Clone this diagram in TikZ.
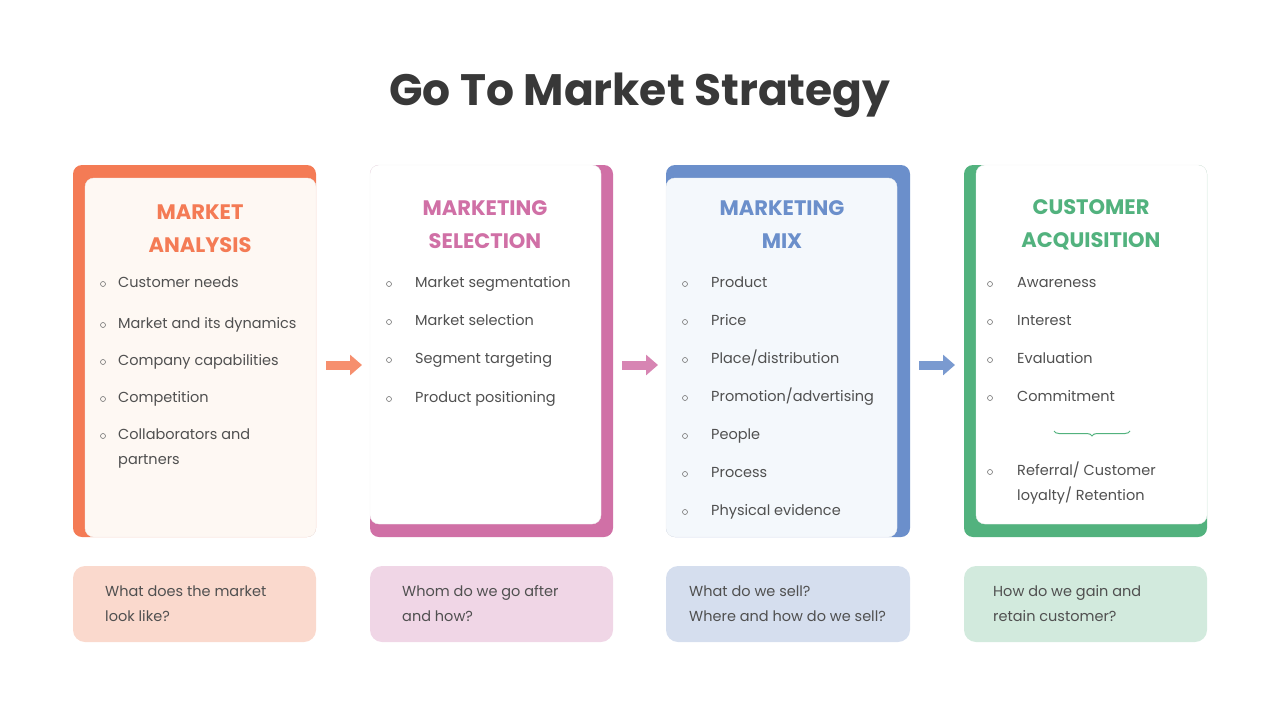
\documentclass[tikz,border=0pt]{standalone}
\usepackage{fontspec}
\setmainfont{Poppins}
\usetikzlibrary{arrows.meta,decorations.pathreplacing}
\definecolor{cOr}{HTML}{F47B55}
\definecolor{cPk}{HTML}{D070A6}
\definecolor{cBl}{HTML}{6B8FCB}
\definecolor{cGr}{HTML}{52B27E}
\definecolor{txt}{HTML}{505050}
\definecolor{in1}{HTML}{FEF8F3}
\definecolor{in3}{HTML}{F4F8FC}
\definecolor{qa}{HTML}{FAD9CD}
\definecolor{qb}{HTML}{F0D6E6}
\definecolor{qc}{HTML}{D5DEEE}
\definecolor{qd}{HTML}{D2EADD}
\tikzset{
 outer/.style={rounded corners=9pt},
 inner/.style={rounded corners=9pt, draw=black!6},
 ttl/.style={font=\fontsize{21}{33}\selectfont\bfseries, align=center, anchor=center},
 itm/.style={font=\fontsize{14.5}{25}\selectfont, text=txt, anchor=base west, align=left, inner sep=0},
 bul/.style={circle, draw=txt!80, line width=0.6pt, minimum size=5pt, inner sep=0},
 qbox/.style={rounded corners=12pt},
 qtxt/.style={font=\fontsize{14.5}{25}\selectfont, text=txt, anchor=west, align=left, inner sep=0},
 arr/.style={-{Triangle[length=12pt,width=20pt]}, line width=9pt},
}
\begin{document}
\begin{tikzpicture}[x=1pt,y=-1pt]
\useasboundingbox (0,0) rectangle (1280,720);
\node[font=\fontsize{44}{52}\selectfont\bfseries, text=black!78] (T) at (640,95) {Go To Market Strategy};
% cards
\fill[cOr,outer] (73,165) rectangle (316,537);
\filldraw[fill=in1,inner] (85,178) rectangle (316,537);
\fill[cPk,outer] (370,165) rectangle (613,537);
\filldraw[fill=white,inner] (370,165) rectangle (601,524);
\fill[cBl,outer] (666,165) rectangle (910,537);
\filldraw[fill=in3,inner] (666,178) rectangle (897,537);
\fill[cGr,outer] (964,165) rectangle (1207,537);
\filldraw[fill=white,inner] (976,165) rectangle (1207,524);
% titles
\node[ttl,text=cOr] (t1) at (200,229) {MARKET\\ANALYSIS};
\node[ttl,text=cPk] (t2) at (485,225) {MARKETING\\SELECTION};
\node[ttl,text=cBl] (t3) at (782,225) {MARKETING\\MIX};
\node[ttl,text=cGr] (t4) at (1091,225) {CUSTOMER\\ACQUISITION};
% card1 items
\foreach \y/\t [count=\i] in {282/Customer needs,323/Market and its dynamics,360/Company capabilities,397/Competition,434/Collaborators and}{
 \node[bul] (ab\i) at (103,\y+2) {}; \node[itm] (a\i) at (118,\y+5) {\t};}
\node[itm] (a6) at (118,464) {partners};
\foreach \y/\t [count=\i] in {282/Market segmentation,320/Market selection,358/Segment targeting,397/Product positioning}{
 \node[bul] (bb\i) at (389,\y+2) {}; \node[itm] (b\i) at (415,\y+5) {\t};}
\foreach \y/\t [count=\i] in {282/Product,320/Price,358/Place\slash distribution,396/Promotion\slash advertising,434/People,472/Process,510/Physical evidence}{
 \node[bul] (cb\i) at (685,\y+2) {}; \node[itm] (c\i) at (711,\y+5) {\t};}
\foreach \y/\t [count=\i] in {282/Awareness,320/Interest,358/Evaluation,396/Commitment,470/{Referral\slash\ Customer}}{
 \node[bul] (db\i) at (990,\y+2) {}; \node[itm] (d\i) at (1017,\y+5) {\t};}
\node[itm] (d6) at (1017,500) {loyalty/ Retention};
\coordinate (br1) at (1054,431); \coordinate (br2) at (1130,431);
\draw[cGr,line width=1pt,decorate,decoration={brace,amplitude=5pt}] (br2) -- (br1);
% arrows
\coordinate (p1) at (326,365); \coordinate (q1) at (362,365);
\coordinate (p2) at (622,365); \coordinate (q2) at (658,365);
\coordinate (p3) at (919,365); \coordinate (q3) at (955,365);
\draw[arr,cOr!85] (p1) -- (q1);
\draw[arr,cPk!85] (p2) -- (q2);
\draw[arr,cBl!90] (p3) -- (q3);
% question boxes
\fill[qa,qbox] (73,566) rectangle (316,642);
\fill[qb,qbox] (370,566) rectangle (613,642);
\fill[qc,qbox] (666,566) rectangle (910,642);
\fill[qd,qbox] (964,566) rectangle (1207,642);
\node[qtxt] (q1t) at (105,604) {What does the market\\look like?};
\node[qtxt] (q2t) at (402,604) {Whom do we go after\\and how?};
\node[qtxt] (q3t) at (689,604) {What do we sell?\\Where and how do we sell?};
\node[qtxt] (q4t) at (993,604) {How do we gain and\\retain customer?};
\end{tikzpicture}
\end{document}
